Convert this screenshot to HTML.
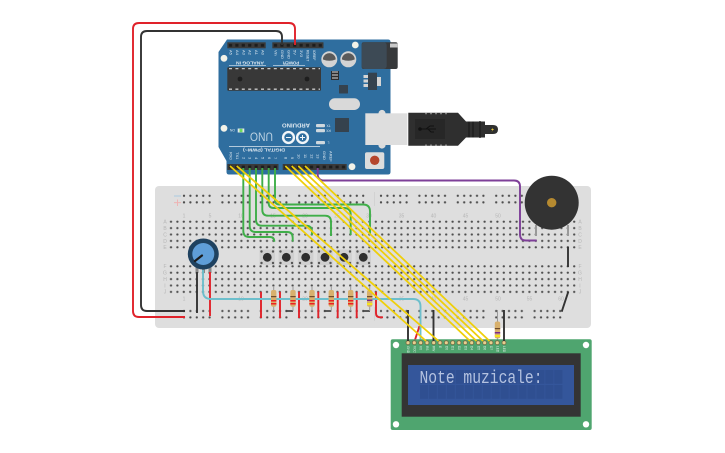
<!DOCTYPE html>
<html><head><meta charset="utf-8"><style>
html,body{margin:0;padding:0;background:#fff;width:725px;height:453px;overflow:hidden}
svg{display:block}
text{font-family:"Liberation Sans",sans-serif}
</style></head><body>
<svg width="725" height="453" viewBox="0 0 725 453" xmlns="http://www.w3.org/2000/svg">
<defs>
<pattern id="h" patternUnits="userSpaceOnUse" x="167.8" y="218.5" width="6.4" height="6.4"><circle cx="3.2" cy="3.2" r="1.15" fill="#4d4d4d"/></pattern>
<pattern id="h2" patternUnits="userSpaceOnUse" x="167.8" y="263.1" width="6.4" height="6.4"><circle cx="3.2" cy="3.2" r="1.15" fill="#4d4d4d"/></pattern>
<pattern id="r1" patternUnits="userSpaceOnUse" x="181" y="192.6" width="38.4" height="6.6"><g fill="#4d4d4d"><circle cx="3" cy="3.2" r="1.15"/><circle cx="9.4" cy="3.2" r="1.15"/><circle cx="15.8" cy="3.2" r="1.15"/><circle cx="22.2" cy="3.2" r="1.15"/><circle cx="28.6" cy="3.2" r="1.15"/></g></pattern>
<pattern id="r2" patternUnits="userSpaceOnUse" x="378" y="192.6" width="38.4" height="6.6"><g fill="#4d4d4d"><circle cx="3" cy="3.2" r="1.15"/><circle cx="9.4" cy="3.2" r="1.15"/><circle cx="15.8" cy="3.2" r="1.15"/><circle cx="22.2" cy="3.2" r="1.15"/><circle cx="28.6" cy="3.2" r="1.15"/></g></pattern>
<pattern id="r3" patternUnits="userSpaceOnUse" x="181" y="307.8" width="38.4" height="6.4"><g fill="#4d4d4d"><circle cx="3" cy="3.2" r="1.15"/><circle cx="9.4" cy="3.2" r="1.15"/><circle cx="15.8" cy="3.2" r="1.15"/><circle cx="22.2" cy="3.2" r="1.15"/><circle cx="28.6" cy="3.2" r="1.15"/></g></pattern>
<pattern id="r4" patternUnits="userSpaceOnUse" x="378" y="307.8" width="38.4" height="6.4"><g fill="#4d4d4d"><circle cx="3" cy="3.2" r="1.15"/><circle cx="9.4" cy="3.2" r="1.15"/><circle cx="15.8" cy="3.2" r="1.15"/><circle cx="22.2" cy="3.2" r="1.15"/><circle cx="28.6" cy="3.2" r="1.15"/></g></pattern>
<pattern id="hp" patternUnits="userSpaceOnUse" x="227.3" y="42.3" width="6.4" height="6"><rect width="6.4" height="6" fill="#3a3a3a"/><rect x="1.6" y="1.6" width="3.2" height="2.8" fill="#1c1c1c"/></pattern>
<pattern id="hp1" patternUnits="userSpaceOnUse" x="272.3" y="42.3" width="6.4" height="6"><rect width="6.4" height="6" fill="#3a3a3a"/><rect x="1.6" y="1.6" width="3.2" height="2.8" fill="#1c1c1c"/></pattern>
<pattern id="hp2" patternUnits="userSpaceOnUse" x="227.3" y="164" width="6.4" height="6"><rect width="6.4" height="6" fill="#3a3a3a"/><rect x="1.6" y="1.6" width="3.2" height="2.8" fill="#1c1c1c"/></pattern>
<pattern id="hp3" patternUnits="userSpaceOnUse" x="282.7" y="164" width="6.4" height="6"><rect width="6.4" height="6" fill="#3a3a3a"/><rect x="1.6" y="1.6" width="3.2" height="2.8" fill="#1c1c1c"/></pattern>
<pattern id="cell" patternUnits="userSpaceOnUse" x="420" y="370" width="8.95" height="15"><rect width="8.2" height="13.8" fill="#2f4f91"/></pattern>
</defs>

<!-- breadboard -->
<rect x="155" y="186" width="436" height="142" rx="4" fill="#dedede"/>
<path d="M374.500 192V206M374.500 307V321" stroke="#d2d2d2" stroke-width="1"/>
<rect x="181" y="192.6" width="192" height="13" fill="url(#r1)"/>
<rect x="378" y="192.6" width="192" height="13" fill="url(#r2)"/>
<rect x="181" y="307.8" width="192" height="12.8" fill="url(#r3)"/>
<rect x="378" y="307.8" width="192" height="12.8" fill="url(#r4)"/>
<rect x="167.8" y="218.5" width="409.6" height="32" fill="url(#h)"/>
<rect x="167.8" y="263.1" width="409.6" height="32" fill="url(#h2)"/>
<g stroke-width="1"><path d="M174 196h7" stroke="#a9cbe0"/><path d="M174 202.600h7M177.500 199.500v6.500" stroke="#eeb4b4"/></g>
<g fill="#b5b5b5" font-size="5" text-anchor="middle">
<text x="184" y="217.500">1</text><text x="210" y="217.500">5</text><text x="241" y="217.500">10</text><text x="273" y="217.500">15</text><text x="305" y="217.500">20</text><text x="337" y="217.500">25</text><text x="369" y="217.500">30</text><text x="401.500" y="217.500">35</text><text x="433.500" y="217.500">40</text><text x="465.500" y="217.500">45</text><text x="498" y="217.500">50</text>
<text x="184" y="300.500">1</text><text x="241" y="300.500">10</text><text x="305" y="300.500">20</text><text x="401.500" y="300.500">35</text><text x="433.500" y="300.500">40</text><text x="465.500" y="300.500">45</text><text x="498" y="300.500">50</text><text x="529.500" y="300.500">55</text><text x="561" y="300.500">60</text>
<text x="165" y="223.500">A</text><text x="165" y="230">B</text><text x="165" y="236.300">C</text><text x="165" y="242.800">D</text><text x="165" y="249.200">E</text>
<text x="165" y="268">F</text><text x="165" y="274.500">G</text><text x="165" y="281">H</text><text x="165" y="287.300">I</text><text x="165" y="293.700">J</text>
<text x="580" y="223.500">A</text><text x="580" y="230">B</text><text x="580" y="236.300">C</text><text x="580" y="242.800">D</text><text x="580" y="249.200">E</text>
<text x="580" y="268">F</text><text x="580" y="274.500">G</text><text x="580" y="281">H</text><text x="580" y="287.300">I</text><text x="580" y="293.700">J</text>
</g>

<!-- arduino -->
<path d="M227 39.500H388q2.500 0 2.500 2.500V172q0 2.500-2.500 2.500H229q-2.500 0-2.500-2.500V161L218.500 147V52Z" fill="#2f6e9f"/>
<rect x="227.300" y="42.300" width="38.400" height="6" fill="url(#hp)"/>
<rect x="272.300" y="42.300" width="51.200" height="6" fill="url(#hp1)"/>
<rect x="227.300" y="164" width="51.200" height="6" fill="url(#hp2)"/>
<rect x="282.700" y="164" width="64" height="6" fill="url(#hp3)"/>
<rect x="227.300" y="67.300" width="93.700" height="23.400" rx="1" fill="#383838"/>
<g stroke="#c8c8c8" stroke-width="1.300" stroke-dasharray="3 3.400"><path d="M229 68.600H320M229 89.200H320"/></g>
<circle cx="240" cy="79" r="2.400" fill="#1e1e1e"/><circle cx="307" cy="79" r="2.400" fill="#1e1e1e"/>
<g stroke="#dfe9f1" stroke-width=".7"><path d="M229 65.700H266M273 65.700H305M229 146.500H320"/></g>
<g fill="#dfe9f1" font-size="4.400" font-weight="bold" text-anchor="middle">
<text transform="rotate(180 250 61.500)" x="250" y="61.500" textLength="28" lengthAdjust="spacingAndGlyphs">ANALOG IN</text>
<text transform="rotate(180 291 61.500)" x="291" y="61.500">POWER</text>
<text transform="rotate(180 264 148.500)" x="264" y="148.500" textLength="42" lengthAdjust="spacingAndGlyphs">DIGITAL (PWM~)</text>
<text transform="rotate(180 296 123.500)" x="296" y="123.500" font-size="5.500" textLength="28" lengthAdjust="spacingAndGlyphs">ARDUINO</text>
<text transform="rotate(180 261.500 132.500)" x="261.500" y="132.500" font-size="11.500" font-weight="normal" fill="#bcd2e3" textLength="23" lengthAdjust="spacingAndGlyphs">UNO</text>
</g>
<g fill="none" stroke="#f2f6f9" stroke-width="2.400"><circle cx="288.500" cy="137.500" r="5.400"/><circle cx="302.500" cy="137.500" r="5.400"/></g>
<path d="M286 137.500h5M300 137.500h5M302.500 135v5" stroke="#f2f6f9" stroke-width="1"/>
<g fill="#dfe9f1" font-size="4">
<text transform="rotate(90 229.500 50)" x="229.500" y="50">A5</text><text transform="rotate(90 236 50)" x="236" y="50">A4</text><text transform="rotate(90 242.500 50)" x="242.500" y="50">A3</text><text transform="rotate(90 248.500 50)" x="248.500" y="50">A2</text><text transform="rotate(90 255 50)" x="255" y="50">A1</text><text transform="rotate(90 261.500 50)" x="261.500" y="50">A0</text>
<text transform="rotate(90 274.500 50)" x="274.500" y="50">Vin</text><text transform="rotate(90 281 50)" x="281" y="50">GND</text><text transform="rotate(90 287.500 50)" x="287.500" y="50">GND</text><text transform="rotate(90 293.500 50)" x="293.500" y="50">5V</text><text transform="rotate(90 300 50)" x="300" y="50">3V3</text><text transform="rotate(90 306.500 50)" x="306.500" y="50" font-size="3.400">RESET</text><text transform="rotate(90 313 50)" x="313" y="50" font-size="3.400">IOREF</text>
<text transform="rotate(90 229.500 152)" x="229.500" y="152">RX0</text><text transform="rotate(90 236 152)" x="236" y="152">TX1</text><text transform="rotate(90 242.500 157)" x="242.500" y="157">2</text><text transform="rotate(90 248.500 157)" x="248.500" y="157">3</text><text transform="rotate(90 255 157)" x="255" y="157">4</text><text transform="rotate(90 261.500 157)" x="261.500" y="157">5</text><text transform="rotate(90 268 157)" x="268" y="157">6</text><text transform="rotate(90 274 157)" x="274" y="157">7</text>
<text transform="rotate(90 284.500 157)" x="284.500" y="157">8</text><text transform="rotate(90 291 157)" x="291" y="157">9</text><text transform="rotate(90 297.500 154)" x="297.500" y="154">10</text><text transform="rotate(90 304 154)" x="304" y="154">11</text><text transform="rotate(90 310.500 154)" x="310.500" y="154">12</text><text transform="rotate(90 316.500 154)" x="316.500" y="154">13</text><text transform="rotate(90 323 151)" x="323" y="151">GND</text><text transform="rotate(90 329.500 151)" x="329.500" y="151">AREF</text>
</g>
<rect x="237.700" y="128.500" width="6.600" height="4" fill="#e0e8ec"/><rect x="239.500" y="128.800" width="3" height="3.400" fill="#6fdc5a"/>
<text transform="rotate(180 232.500 129)" x="232.500" y="129" font-size="3.500" fill="#dfe9f1" text-anchor="middle">ON</text>
<rect x="316" y="124" width="9" height="3.300" rx="1" fill="#cfd8de"/><rect x="316" y="129" width="9" height="3.300" rx="1" fill="#cfd8de"/><rect x="316" y="141" width="9" height="3.300" rx="1" fill="#cfd8de"/>
<g fill="#dfe9f1" font-size="3.200" text-anchor="middle"><text transform="rotate(180 328.500 124.500)" x="328.500" y="124.500">TX</text><text transform="rotate(180 328.500 129.500)" x="328.500" y="129.500">RX</text><text transform="rotate(180 328.500 141.500)" x="328.500" y="141.500">L</text></g>
<g fill="#f2f2e8"><circle cx="224" cy="58.300" r="3.400"/><circle cx="355.300" cy="45" r="3.400"/><circle cx="224" cy="128.300" r="3.400"/><circle cx="352" cy="166.700" r="3.400"/></g>
<g><circle cx="329.300" cy="59.300" r="8" fill="#d3d3d3"/><path d="M323 58a6.500 6.500 0 0 1 12.600 0v1.500q-6.300 2.500-12.600 0Z" fill="#5a5a5a"/><circle cx="348.300" cy="59.300" r="8" fill="#d3d3d3"/><path d="M342 58a6.500 6.500 0 0 1 12.600 0v1.500q-6.300 2.500-12.600 0Z" fill="#5a5a5a"/></g>
<rect x="331" y="71" width="8" height="9" fill="#2c2c2c"/><path d="M332 72h6M332 75h6M332 78h6" stroke="#ddd" stroke-width="1"/>
<rect x="339" y="85" width="9" height="8.500" rx=".5" fill="#35424e"/>
<rect x="329" y="98.300" width="31" height="11.700" rx="5.800" fill="#d9d9d9"/>
<rect x="335" y="118" width="14" height="14" rx=".5" fill="#35424e"/>
<rect x="361.700" y="42.300" width="36" height="26.700" rx="2" fill="#37393b"/><rect x="361.700" y="42.300" width="25" height="26.700" rx="3" fill="#3d4a55"/><rect x="390" y="43.500" width="7.700" height="4" fill="#c9c9c9"/>
<rect x="368" y="72.700" width="9" height="17.300" fill="#35424e"/><rect x="377" y="77" width="4" height="9" fill="#d5d5d5"/><g fill="#d5d5d5"><rect x="363.500" y="75" width="4.500" height="3"/><rect x="363.500" y="79.500" width="4.500" height="3"/><rect x="363.500" y="84" width="4.500" height="3"/></g>
<rect x="365" y="152.300" width="19.300" height="16.700" rx="2" fill="#dcdcdc"/><circle cx="374.700" cy="160.300" r="4.700" fill="#b5452c"/>
<!-- USB -->
<circle cx="382" cy="113.500" r="3.600" fill="#dcdcdc"/><circle cx="382" cy="145" r="3.600" fill="#dcdcdc"/>
<rect x="365.300" y="113.300" width="42" height="31.700" fill="#dedede"/>
<path d="M408.300 112.700H458L466 121.500H485V125H493Q498 125 498 129.500Q498 134 493 134H485V137.500H466L458 145.700H408.300Z" fill="#2f2f2f"/>
<path d="M426 112.700v1.500M431 112.700v1.500M436 112.700v1.500M441 112.700v1.500M446 112.700v1.500M426 144.500v1.500M431 144.500v1.500M436 144.500v1.500M441 144.500v1.500M446 144.500v1.500" stroke="#cfcfcf" stroke-width="1"/>
<rect x="415" y="119" width="30" height="20" fill="#272727"/>
<path d="M421 129h15M426 129l4-3h4M428 129l3 3h3" stroke="#111" stroke-width="1" fill="none"/><circle cx="420" cy="129" r="1.800" fill="#111"/>
<path d="M469 121.500v16M473 121.500v16M480 121v17" stroke="#1a1a1a" stroke-width="1.200"/>
<path d="M493 127.500l-2 2.500h1.500l-1 2 2.500-3h-1.500Z" fill="#e2c63c"/>

<!-- buttons -->
<g id="btns">
<g fill="#d0d0d0"><rect x="259.500" y="249.500" width="15.500" height="15.500"/><rect x="278.600" y="249.500" width="15.500" height="15.500"/><rect x="297.900" y="249.500" width="15.500" height="15.500"/><rect x="317.200" y="249.500" width="15.500" height="15.500"/><rect x="336.300" y="249.500" width="15.500" height="15.500"/><rect x="355.500" y="249.500" width="15.500" height="15.500"/></g>
<g fill="#2f2f2f"><circle cx="267.300" cy="257.300" r="4.400"/><circle cx="286.300" cy="257.300" r="4.400"/><circle cx="305.700" cy="257.300" r="4.400"/><circle cx="325" cy="257.300" r="4.400"/><circle cx="344" cy="257.300" r="4.400"/><circle cx="363.300" cy="257.300" r="4.400"/></g>
<g fill="#555"><circle cx="261.500" cy="251.500" r="1.200"/><circle cx="273" cy="251.500" r="1.200"/><circle cx="261.500" cy="263" r="1.200"/><circle cx="273" cy="263" r="1.200"/><circle cx="280.500" cy="251.500" r="1.200"/><circle cx="292" cy="251.500" r="1.200"/><circle cx="280.500" cy="263" r="1.200"/><circle cx="292" cy="263" r="1.200"/><circle cx="300" cy="251.500" r="1.200"/><circle cx="311.500" cy="251.500" r="1.200"/><circle cx="300" cy="263" r="1.200"/><circle cx="311.500" cy="263" r="1.200"/><circle cx="319" cy="251.500" r="1.200"/><circle cx="330.500" cy="251.500" r="1.200"/><circle cx="319" cy="263" r="1.200"/><circle cx="330.500" cy="263" r="1.200"/><circle cx="338.500" cy="251.500" r="1.200"/><circle cx="350" cy="251.500" r="1.200"/><circle cx="338.500" cy="263" r="1.200"/><circle cx="350" cy="263" r="1.200"/><circle cx="357.500" cy="251.500" r="1.200"/><circle cx="369" cy="251.500" r="1.200"/><circle cx="357.500" cy="263" r="1.200"/><circle cx="369" cy="263" r="1.200"/></g>
</g>

<!-- potentiometer -->
<rect x="195.500" y="267" width="3" height="6" fill="#888"/><rect x="202" y="267" width="3" height="6" fill="#888"/><rect x="208.500" y="267" width="3" height="6" fill="#888"/>
<circle cx="203.300" cy="254" r="15.500" fill="#1f4260"/>
<circle cx="203.300" cy="254" r="11" fill="#5f9ed8"/>
<path d="M202 255.500L195 261" stroke="#1c1c1c" stroke-width="2.200" stroke-linecap="round"/>

<!-- resistor leads, red wires -->
<g stroke="#e0222a" stroke-width="1.900" fill="none">
<path d="M261 291.700V318M280 291.700V318M299 291.700V318M318.300 291.700V318M337.700 291.700V318M356.700 291.700V318"/>
<path d="M376 291.700V313q0 4.300 4.300 4.300H383"/>
<path d="M210 272V316"/>
<path d="M419.500 326L414.300 342"/>
</g>
<path d="M285.700 311H293M324 311H331.300M362.700 311H370" stroke="#444" stroke-width="1.800" fill="none"/>
<path d="M197 272V313" stroke="#333" stroke-width="1.900" fill="none"/>

<!-- teal -->
<path d="M203 270V291q0 8 8 8H413q7.500 0 7.500 7.500V342" fill="none" stroke="#6dbfcc" stroke-width="1.900"/>

<!-- resistors -->
<g stroke="#999" stroke-width="1"><path d="M273.700 286V311M293 286V311M312 286V311M331.300 286V311M350.700 286V311M369.700 286V311M497.500 310V343"/></g>
<g fill="#d8b06c"><rect x="271" y="290" width="5.400" height="16.700" rx="2"/><rect x="290.300" y="290" width="5.400" height="16.700" rx="2"/><rect x="309.300" y="290" width="5.400" height="16.700" rx="2"/><rect x="328.600" y="290" width="5.400" height="16.700" rx="2"/><rect x="348" y="290" width="5.400" height="16.700" rx="2"/><rect x="367" y="290" width="5.400" height="16.700" rx="2"/><rect x="494.800" y="321.500" width="5.400" height="17" rx="2"/></g>
<g fill="#6e4a2c"><rect x="271" y="296" width="5.400" height="1.200"/><rect x="290.300" y="296" width="5.400" height="1.200"/><rect x="309.300" y="296" width="5.400" height="1.200"/><rect x="328.600" y="296" width="5.400" height="1.200"/><rect x="348" y="296" width="5.400" height="1.200"/><rect x="367" y="296" width="5.400" height="1.200"/><rect x="494.800" y="328" width="5.400" height="1.200"/></g>
<g fill="#ee2020"><rect x="271" y="300" width="5.400" height="1.500"/><rect x="271" y="303" width="5.400" height="1.500"/><rect x="290.300" y="300" width="5.400" height="1.500"/><rect x="290.300" y="303" width="5.400" height="1.500"/><rect x="309.300" y="300" width="5.400" height="1.500"/><rect x="309.300" y="303" width="5.400" height="1.500"/><rect x="328.600" y="300" width="5.400" height="1.500"/><rect x="328.600" y="303" width="5.400" height="1.500"/><rect x="348" y="300" width="5.400" height="1.500"/><rect x="348" y="303" width="5.400" height="1.500"/></g>
<rect x="367" y="299.500" width="5.400" height="1.500" fill="#7a2a8c"/><rect x="367" y="303" width="5.400" height="2" fill="#f4e41c"/>
<rect x="494.800" y="332" width="5.400" height="1.500" fill="#7a2a8c"/><rect x="494.800" y="335" width="5.400" height="2" fill="#f4e41c"/>

<!-- wires: red + black to Arduino -->
<path d="M295 45V29q0-6-6-6H139q-6 0-6 6V311q0 6 6 6H185" fill="none" stroke="#e0222a" stroke-width="1.900"/>
<path d="M282 45V37q0-6-6-6H147q-6 0-6 6V305q0 6 6 6H185" fill="none" stroke="#333" stroke-width="1.900"/>

<!-- green -->
<g fill="none" stroke="#3fae49" stroke-width="1.900">
<path d="M243.300 168V231q0 6 6 6H270q4.300 0 4.300 4.700"/>
<path d="M249.700 168V226q0 6 6 6H287q5.700 0 5.700 5.700V241.500"/>
<path d="M256 168V219.700q0 6 6 6H306q6 0 6 6V235"/>
<path d="M262.300 168V209.700q0 6 6 6H325q6 0 6 6V236"/>
<path d="M268.700 168V203q0 5 5 5H344q6.700 0 6.700 6.700V235"/>
<path d="M275 168V200q0 4.500 4.500 4.500H363q7 0 7 7V235"/>
</g>

<!-- purple -->
<path d="M317.700 168V174q0 6.500 6.500 6.500H514q6 0 6 6V234.500q0 6 6 6H536.700" fill="none" stroke="#7e3f98" stroke-width="1.900"/>

<!-- buzzer -->
<path d="M536 225V236M568 225V236" stroke="#999" stroke-width="2"/>
<circle cx="551.700" cy="202.700" r="27" fill="#333"/>
<circle cx="551.700" cy="202.700" r="4.700" fill="#b68a30"/>
<path d="M568 246.700V267" stroke="#333" stroke-width="1.900"/>
<path d="M568.300 291.700L561.700 311.700" stroke="#333" stroke-width="1.900"/>

<!-- LCD -->
<rect x="390.700" y="339.300" width="201" height="90.700" rx="2" fill="#4fa56f"/>
<g fill="#fff"><circle cx="396" cy="345" r="3.200"/><circle cx="586" cy="345" r="3.200"/><circle cx="396" cy="424.300" r="3.200"/><circle cx="586" cy="424.300" r="3.200"/></g>
<rect x="401.700" y="353.300" width="179" height="63.400" fill="#343434"/>
<rect x="408" y="365" width="166" height="40" fill="#34569b"/>
<rect x="420" y="370" width="143" height="30" fill="url(#cell)"/>
<text x="419.500" y="383" font-size="18.500" textLength="123" lengthAdjust="spacingAndGlyphs" fill="#b4c2e0" style="font-family:'Liberation Mono',monospace">Note muzicale:</text>
<g fill="#e9cf8e" stroke="#6d6a45" stroke-width=".8">
<circle cx="408" cy="342.700" r="2"/><circle cx="414.300" cy="342.700" r="2"/><circle cx="420.700" cy="342.700" r="2"/><circle cx="427" cy="342.700" r="2"/><circle cx="433.700" cy="342.700" r="2"/><circle cx="440" cy="342.700" r="2"/><circle cx="446.300" cy="342.700" r="2"/><circle cx="452.700" cy="342.700" r="2"/><circle cx="459" cy="342.700" r="2"/><circle cx="465.300" cy="342.700" r="2"/><circle cx="471.700" cy="342.700" r="2"/><circle cx="478.300" cy="342.700" r="2"/><circle cx="484.700" cy="342.700" r="2"/><circle cx="491" cy="342.700" r="2"/><circle cx="497.300" cy="342.700" r="2"/><circle cx="504" cy="342.700" r="2"/>
</g>
<g fill="#dcebe2" font-size="3.200">
<text transform="rotate(90 407 346)" x="407" y="346">GND</text><text transform="rotate(90 413.300 346)" x="413.300" y="346">VCC</text><text transform="rotate(90 419.700 346)" x="419.700" y="346">V0</text><text transform="rotate(90 426 346)" x="426" y="346">RS</text><text transform="rotate(90 432.700 346)" x="432.700" y="346">RW</text><text transform="rotate(90 439 346)" x="439" y="346">E</text><text transform="rotate(90 445.300 346)" x="445.300" y="346">D0</text><text transform="rotate(90 451.700 346)" x="451.700" y="346">D1</text><text transform="rotate(90 458 346)" x="458" y="346">D2</text><text transform="rotate(90 464.300 346)" x="464.300" y="346">D3</text><text transform="rotate(90 470.700 346)" x="470.700" y="346">D4</text><text transform="rotate(90 477.300 346)" x="477.300" y="346">D5</text><text transform="rotate(90 483.700 346)" x="483.700" y="346">D6</text><text transform="rotate(90 490 346)" x="490" y="346">D7</text><text transform="rotate(90 496.300 346)" x="496.300" y="346">LED</text><text transform="rotate(90 503 346)" x="503" y="346">LED</text>
</g>
<path d="M408 310V341M433.500 310V341M504 310V341" stroke="#333" stroke-width="1.900"/>

<!-- yellow -->
<g stroke="#efcf0a" stroke-width="1.800" fill="none">
<path d="M230 166L426 341"/>
<path d="M236.700 166L438.500 341"/>
<path d="M285.300 166L470 341"/>
<path d="M291.700 166L476.500 341"/>
<path d="M298.300 166L483 341"/>
<path d="M305 166L489.500 341"/>
</g>
</svg>
</body></html>
